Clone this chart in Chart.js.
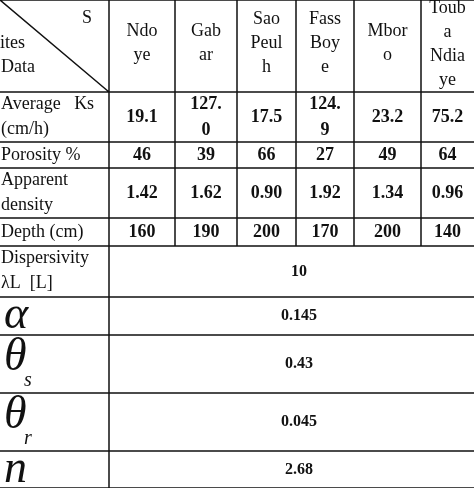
<!DOCTYPE html>
<html><head><meta charset="utf-8">
<script src="https://cdn.jsdelivr.net/npm/chart.js@4"></script>
<style>html,body{margin:0;padding:0;background:#fff}#wrap{width:474px;height:488px}</style>
</head><body><div id="wrap"><canvas id="c"></canvas></div>
<script>
// table content
const sites = [['Ndo', 'ye'], ['Gab', 'ar'], ['Sao', 'Peul', 'h'], ['Fass', 'Boy', 'e'], ['Mbor', 'o'], ['Toub', 'a', 'Ndia', 'ye']];
const rowLabels = [['Average   Ks', '(cm/h)'], ['Porosity %'], ['Apparent', 'density'], ['Depth (cm)']];
const ks = [['19.1'], ['127.', '0'], ['17.5'], ['124.', '9'], ['23.2'], ['75.2']];
const porosity = ['46', '39', '66', '27', '49', '64'];
const density = ['1.42', '1.62', '0.90', '1.92', '1.34', '0.96'];
const depth = ['160', '190', '200', '170', '200', '140'];
const paramLabels = ['α', 'θs', 'θr', 'n'];
const paramValues = ['10', '0.145', '0.43', '0.045', '2.68'];

const colX = [0, 109, 175, 237, 296, 354, 421, 474];
const rowY = [0, 92, 142, 168, 218, 246, 297, 335, 393, 451, 488];

function lines(ctx, arr, cx, cy, lh, align) {
  ctx.textAlign = align || 'center';
  const y0 = cy - (arr.length - 1) * lh / 2;
  arr.forEach((s, i) => ctx.fillText(s, cx, y0 + i * lh));
}

const tablePlugin = {
  id: 'table',
  afterDraw(chart) {
    const ctx = chart.ctx;
    ctx.save();
    ctx.fillStyle = '#111'; ctx.strokeStyle = '#111'; ctx.lineWidth = 1.5;
    ctx.textBaseline = 'middle';
    // grid
    ctx.beginPath();
    rowY.forEach(y => { ctx.moveTo(0, y); ctx.lineTo(474, y); });
    ctx.moveTo(109, 0); ctx.lineTo(109, 488);
    colX.slice(2, 7).forEach(x => { ctx.moveTo(x, 0); ctx.lineTo(x, 246); });
    ctx.moveTo(0, 0); ctx.lineTo(109, 92);
    ctx.stroke();
    // header
    ctx.font = '18px "Liberation Serif"';
    ctx.fillText('S', 82, 18);
    ctx.textAlign = 'left';
    ctx.fillText('ites', 0, 43); ctx.fillText('Data', 1, 67);
    sites.forEach((s, i) => {
      const cx = (colX[i + 1] + colX[i + 2]) / 2;
      lines(ctx, s, cx, s.length > 3 ? 44 : (s.length > 2 ? 43 : 43), 24);
    });
    rowLabels.forEach((s, i) => lines(ctx, s, 1, (rowY[i + 1] + rowY[i + 2]) / 2, 25, 'left'));
    lines(ctx, ['Dispersivity', 'λL  [L]'], 1, 271, 25, 'left');
    // values
    ctx.font = 'bold 18px "Liberation Serif"';
    [ks, porosity, density, depth].forEach((row, r) => {
      row.forEach((v, i) => {
        const cx = (colX[i + 1] + colX[i + 2]) / 2;
        lines(ctx, Array.isArray(v) ? v : [v], cx, (rowY[r + 1] + rowY[r + 2]) / 2, 26);
      });
    });
    ctx.font = 'bold 16px "Liberation Serif"';
    paramValues.forEach((v, i) => {
      ctx.textAlign = 'center';
      ctx.fillText(v, 299, (rowY[i + 5] + rowY[i + 6]) / 2);
    });
    // greek symbols
    ctx.textAlign = 'left';
    paramLabels.forEach((s, i) => {
      const cy = (rowY[i + 6] + rowY[i + 7]) / 2;
      ctx.font = 'italic 46px "Liberation Serif"';
      ctx.fillText(s[0], 4, cy - (s.length > 1 ? 6 : 0));
      if (s.length > 1) {
        ctx.font = 'italic 20px "Liberation Serif"';
        ctx.fillText(s[1], 24, cy + 17);
      }
    });
    ctx.restore();
  }
};

new Chart(document.getElementById('c'), {
  type: 'bar',
  data: { labels: sites.map(s => s.join('')), datasets: [{ data: depth.map(Number), backgroundColor: 'rgba(0,0,0,0)' }] },
  options: {
    responsive: true, maintainAspectRatio: false, animation: false,
    layout: { padding: 0 },
    plugins: { legend: { display: false }, tooltip: { enabled: false } },
    scales: { x: { display: false }, y: { display: false } }
  },
  plugins: [tablePlugin]
});
</script></body></html>
